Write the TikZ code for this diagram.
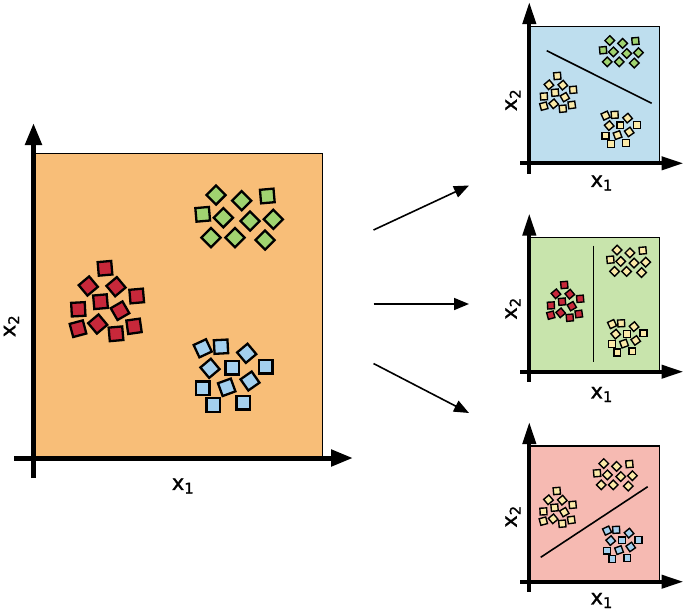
\documentclass[tikz,border=0pt]{standalone}
\usepackage{fontspec}
\setmainfont{DejaVu Sans}
\newfontfamily\labfont[FakeBold=1.2]{DejaVu Sans}
\usetikzlibrary{arrows.meta}
\definecolor{bgorange}{RGB}{248,190,120}
\definecolor{bgblue}{RGB}{190,222,238}
\definecolor{bggreen}{RGB}{200,228,172}
\definecolor{bgpink}{RGB}{246,186,178}
\definecolor{ptgreen}{RGB}{160,211,112}
\definecolor{ptred}{RGB}{200,40,58}
\definecolor{ptblue}{RGB}{164,208,238}
\definecolor{ptyellow}{RGB}{251,234,168}
\tikzset{
  bigaxis/.style={line width=5pt,-{Triangle[length=22pt,width=16pt]}},
  smallaxis/.style={line width=4pt,-{Triangle[length=22pt,width=13pt]}},
  panel/.style={draw=black,line width=1.4pt},
  sep/.style={draw=black,line width=1.6pt},
  flow/.style={line width=1.6pt,-{Triangle[length=15pt,width=12pt]}},
  lbl/.style={font=\labfont\fontsize{21}{21}\selectfont,inner sep=0pt},
}
\newcommand\xlab[1]{x\textsubscript{#1}}
\newcommand\greenlist{-22.5/-22.9/45, 3.2/-17.2/45, 28.8/-21.9/5, -35.8/-3.6/5, -15.2/-0.2/45, 11.5/3.1/45, 34.8/1.4/45, -27.5/19.8/45, -3.5/19.8/45, 26.5/22.1/45}
\newcommand\redlist{-1.4/-38.1/5, -18.1/-20.4/40, 9.6/-19.7/40, 30.3/-10.4/5, -5.9/-4.7/5, 13.6/4.3/30, -28.1/2.9/3, -28.4/22.3/15, -8.7/17.6/40, 9.6/27.4/5, 27.6/19.9/8}
\newcommand\bluelist{-25.9/-25.8/25, -7.6/-27.4/3, 18.1/-20.8/40, -18.6/-5.8/40, 3.7/-6.4/0, 37.1/-7.4/0, 21.4/6.9/35, -25.9/14.2/0, -1.9/13.2/20, -15.3/30.9/0, 14.7/28.6/0}
% #1 x, #2 y, #3 scale, #4 fill, #5 list, #6 line width
\newcommand\cluster[6]{%
  \begin{scope}[shift={(#1,#2)},scale=#3]
    \foreach \dx/\dy/\a in #5 {
      \draw[fill=#4,line width=#6,rotate around={\a:(\dx,\dy)}]
        (\dx-6.8,\dy-6.8) rectangle (\dx+6.8,\dy+6.8);
    }
  \end{scope}}
\begin{document}
\begin{tikzpicture}[x=1pt,y=-1pt]
\useasboundingbox (0,0) rectangle (685,611);
% ---------- big plot
\draw[panel,fill=bgorange] (34,153.5) rectangle (322.5,457);
\coordinate (bvb) at (33.5,478);
\coordinate (bvt) at (33.5,123);
\coordinate (bhl) at (14,458);
\coordinate (bhr) at (353,458);
\draw[bigaxis] (bvb) -- (bvt);
\draw[bigaxis] (bhl) -- (bhr);
\node[lbl] (bx1) at (183,486) {\xlab{1}};
\node[lbl,rotate=90] (bx2) at (11.5,326) {\xlab{2}};
\cluster{238.5}{217.9}{1}{ptgreen}{\greenlist}{2.3pt}
\cluster{106.4}{306.4}{1}{ptred}{\redlist}{2.3pt}
\cluster{228.6}{374.1}{1}{ptblue}{\bluelist}{2.3pt}
% ---------- arrows
\coordinate (a1s) at (373.5,230);
\coordinate (a1e) at (469,185.5);
\coordinate (a2s) at (373.5,304);
\coordinate (a2e) at (469,304);
\coordinate (a3s) at (373.5,363.5);
\coordinate (a3e) at (469,413);
\draw[flow] (a1s) -- (a1e);
\draw[flow] (a2s) -- (a2e);
\draw[flow] (a3s) -- (a3e);
% ---------- top small plot
\draw[panel,fill=bgblue] (530,26.7) rectangle (659.3,163.3);
\coordinate (t1) at (546.7,50.7);
\coordinate (t2) at (651.7,103.3);
\draw[sep] (t1) -- (t2);
\cluster{621}{52}{0.5}{ptgreen}{\greenlist}{1.4pt}
\cluster{558}{95}{0.5}{ptyellow}{\redlist}{1.4pt}
\cluster{618.5}{128.5}{0.5}{ptyellow}{\bluelist}{1.4pt}
\coordinate (tvb) at (529.3,173.5);
\coordinate (tvt) at (529.3,2);
\coordinate (thl) at (520,163.3);
\coordinate (thr) at (683.5,163.3);
\draw[smallaxis] (tvb) -- (tvt);
\draw[smallaxis] (thl) -- (thr);
\node[lbl] (tx1) at (601.7,183) {\xlab{1}};
\node[lbl,rotate=90] (tx2) at (513,100) {\xlab{2}};
% ---------- middle small plot
\draw[panel,fill=bggreen] (530,237.7) rectangle (659.3,371.7);
\coordinate (m1) at (593.3,245.7);
\coordinate (m2) at (593.3,361.7);
\draw[sep] (m1) -- (m2);
\cluster{565}{304}{0.5}{ptred}{\redlist}{1.4pt}
\cluster{628.3}{261.5}{0.5}{ptyellow}{\greenlist}{1.4pt}
\cluster{625}{337}{0.5}{ptyellow}{\bluelist}{1.4pt}
\coordinate (mvb) at (529.3,381.7);
\coordinate (mvt) at (529.3,213.5);
\coordinate (mhl) at (520,371.7);
\coordinate (mhr) at (683.5,371.7);
\draw[smallaxis] (mvb) -- (mvt);
\draw[smallaxis] (mhl) -- (mhr);
\node[lbl] (mx1) at (601.7,394.5) {\xlab{1}};
\node[lbl,rotate=90] (mx2) at (513,308.5) {\xlab{2}};
% ---------- bottom small plot
\draw[panel,fill=bgpink] (530,446) rectangle (659.3,581.7);
\coordinate (p1) at (540.7,557.3);
\coordinate (p2) at (647.7,486.7);
\draw[sep] (p1) -- (p2);
\cluster{615}{475}{0.5}{ptyellow}{\greenlist}{1.4pt}
\cluster{557.5}{510}{0.5}{ptyellow}{\redlist}{1.4pt}
\cluster{620}{543.5}{0.5}{ptblue}{\bluelist}{1.4pt}
\coordinate (pvb) at (529.3,591.7);
\coordinate (pvt) at (529.3,422);
\coordinate (phl) at (520,581.7);
\coordinate (phr) at (683.5,581.7);
\draw[smallaxis] (pvb) -- (pvt);
\draw[smallaxis] (phl) -- (phr);
\node[lbl] (px1) at (601.7,600.5) {\xlab{1}};
\node[lbl,rotate=90] (px2) at (513,516.5) {\xlab{2}};
\end{tikzpicture}
\end{document}
